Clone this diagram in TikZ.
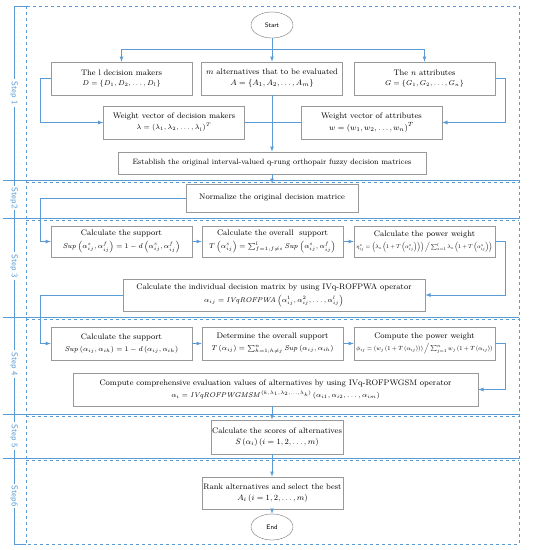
\documentclass[tikz,border=0pt]{standalone}
\usepackage{tikz}
\usepackage{amsmath}
\usepackage{graphicx}
\usetikzlibrary{positioning,shapes,arrows,calc}
\definecolor{stepblue}{RGB}{91,155,213}
\newcommand{\eqsize}{\fontsize{6.6}{7.5}\selectfont}
\begin{document}
\begin{tikzpicture}[x=1pt,y=-1pt]
    \tikzstyle{every node}=[font=\fontsize{8}{9}\selectfont,inner sep=1]
    \tikzstyle{box}=[draw=black!40,fill=white,rectangle,align=center,line width=0.6]
    \tikzstyle{wide}=[box,minimum width=141,minimum height=33]
    \tikzstyle{term}=[draw=black!55,fill=white,ellipse,minimum width=42,minimum height=26,font=\fontsize{6.5}{7}\sffamily]
    \tikzstyle{link}=[draw=stepblue,line width=0.8,-latex]
    \tikzstyle{wire}=[draw=stepblue,line width=0.8]
    \tikzstyle{steplabel}=[fill=white,rotate=-90,text=stepblue,font=\fontsize{8.5}{9}\sffamily,inner sep=2]
    \useasboundingbox (0,0) rectangle (545,550);
    {
        % frame of the steps
        \draw[stepblue,dashed,line width=0.8] (26,6) rectangle (519,544);
        \draw[stepblue,line width=0.8] (14,6) -- (14,544);
        \draw[stepblue,line width=0.8] (14,6) -- (26,6);
        \draw[stepblue,line width=0.8] (14,544) -- (26,544);
        \foreach \y in {180,218,317,414,458} {
            \draw[stepblue,line width=0.8] (3,\y) -- (519,\y);
            \draw[stepblue,dashed,line width=0.5] (26,\y+2) -- (519,\y+2);
        }
        \node[steplabel] (s1) at (14,93) {Step 1};
        \node[steplabel] (s2) at (14,198) {Step2};
        \node[steplabel] (s3) at (14,266) {Step 3};
        \node[steplabel] (s4) at (14,364) {Step 4};
        \node[steplabel] (s5) at (14,436) {Step 5};
        \node[steplabel] (s6) at (14,496) {Step6};

        % step 1
        \node[term] (start) at (272,25) {Start};
        \node[wide] (dm) at (121.5,78.5) {The l decision makers\\[1pt]{\eqsize $D=\{D_1,D_2,\ldots,D_l\}$}};
        \node[wide] (alt) at (272,78.5) {$m$ alternatives that to be evaluated\\[2pt]$A=\left\{A_1,A_2,\ldots,A_m\right\}$};
        \node[wide] (attr) at (424.5,78.5) {The $n$ attributes\\[1pt]{\eqsize $G=\{G_1,G_2,\ldots,G_n\}$}};
        \node[wide] (wdm) at (174,122.5) {Weight vector of decision makers\\[2pt]{\eqsize $\lambda=\left(\lambda_1,\lambda_2,\ldots,\lambda_l\right)^T$}};
        \node[wide] (wattr) at (371.5,122.5) {Weight vector of attributes\\[2pt]$w=\left(w_1,w_2,\ldots,w_n\right)^T$};
        \node[box,minimum width=308,minimum height=22,font=\fontsize{7.7}{9}\selectfont] (est) at (272,163) {Establish the original interval-valued q-rung orthopair fuzzy decision matrices};
        \coordinate (split) at (272,49);
        \draw[wire] (start) -- (split);
        \draw[link] (split) -| (dm);
        \draw[link] (split) -- (alt);
        \draw[link] (split) -| (attr);
        \draw[link] (dm.west) -- ++(-10,0) |- (wdm);
        \draw[link] (attr.east) -- ++(10,0) |- (wattr);
        \draw[wire] (wdm.east) -- (wdm.east -| alt.south);
        \draw[wire] (wattr.west) -- (wattr.west -| alt.south);
        \draw[link] (alt) -- (est);

        % step 2
        \node[box,minimum width=172,minimum height=28] (norm) at (272,198) {Normalize the original decision matrice};
        \draw[link] (est) -- (norm);

        % step 3
        \node[wide,minimum height=31] (sup1) at (121.5,241.5) {Calculate the support\\[3pt]{\eqsize $\mathit{Sup}\left(\alpha_{ij}^s,\alpha_{ij}^f\right)=1-d\left(\alpha_{ij}^s,\alpha_{ij}^f\right)$}};
        \node[wide,minimum height=31] (tot1) at (272.5,241.5) {Calculate the overall\ \ support\\[3pt]{\eqsize $T\left(\alpha_{ij}^s\right)=\sum\nolimits_{f=1;f\neq s}^{l}\mathit{Sup}\left(\alpha_{ij}^s,\alpha_{ij}^f\right)$}};
        \node[wide,minimum height=31] (pw1) at (424.5,241.5) {Calculate the power weight\\[3pt]\resizebox{136pt}{!}{$\eta_{ij}^s=\left(\lambda_s\left(1+T\left(\alpha_{ij}^s\right)\right)\right)\Big/\sum\nolimits_{s=1}^{l}\lambda_s\left(1+T\left(\alpha_{ij}^s\right)\right)$}};
        \node[box,minimum width=302,minimum height=32] (ind) at (274,295) {Calculate the individual decision matrix by using IVq-ROFPWA operator\\[3pt]{\eqsize $\alpha_{ij}=\mathit{IVqROFPWA}\left(\alpha_{ij}^1,\alpha_{ij}^2,\ldots,\alpha_{ij}^l\right)$}};
        \draw[link] (norm.west) -| ([xshift=-10pt]sup1.west) -- (sup1.west);
        \draw[link] (sup1) -- (tot1);
        \draw[link] (tot1) -- (pw1);
        \draw[link] (pw1.east) -- ++(10,0) |- (ind.east);

        % step 4
        \node[wide] (sup2) at (121.5,343.5) {Calculate the support\\[3pt]{\eqsize $\mathit{Sup}\left(\alpha_{ij},\alpha_{ih}\right)=1-d\left(\alpha_{ij},\alpha_{ih}\right)$}};
        \node[wide] (tot2) at (272.5,343.5) {Determine the overall support\\[3pt]{\eqsize $T\left(\alpha_{ij}\right)=\sum\nolimits_{h=1;h\neq j}^{n}\mathit{Sup}\left(\alpha_{ij},\alpha_{ih}\right)$}};
        \node[wide] (pw2) at (424.5,343.5) {Compute the power weight\\[3pt]\resizebox{136pt}{!}{$\phi_{ij}=\left(w_j\left(1+T\left(\alpha_{ij}\right)\right)\right)\Big/\sum\nolimits_{j=1}^{n}w_j\left(1+T\left(\alpha_{ij}\right)\right)$}};
        \node[box,minimum width=405,minimum height=33] (comp) at (275.5,389.5) {Compute comprehensive evaluation values of alternatives by using IVq-ROFPWGSM operator\\[3pt]{\eqsize $\alpha_i=\mathit{IVqROFPWGMSM}^{(k,\lambda_1,\lambda_2,\ldots,\lambda_k)}\left(\alpha_{i1},\alpha_{i2},\ldots,\alpha_{im}\right)$}};
        \draw[link] (ind.west) -| ([xshift=-10pt]sup2.west) -- (sup2.west);
        \draw[link] (sup2) -- (tot2);
        \draw[link] (tot2) -- (pw2);
        \draw[link] (pw2.east) -- ++(10,0) |- (comp.east);

        % step 5 and step 6
        \node[box,minimum width=132,minimum height=34] (score) at (277,437) {Calculate the scores of alternatives\\[2pt]$S\left(\alpha_i\right)\left(i=1,2,\ldots,m\right)$};
        \node[box,minimum width=141,minimum height=32] (rank) at (272.5,493) {Rank alternatives and select the best\\[2pt]$A_i\left(i=1,2,\ldots,m\right)$};
        \node[term] (stop) at (272,527) {End};
        \draw[link] (comp.south -| stop.north) -- (score.north -| stop.north);
        \draw[link] (score.south -| stop.north) -- (rank.north -| stop.north);
        \draw[link] (rank.south -| stop.north) -- (stop);
    }
\end{tikzpicture}
\end{document}
